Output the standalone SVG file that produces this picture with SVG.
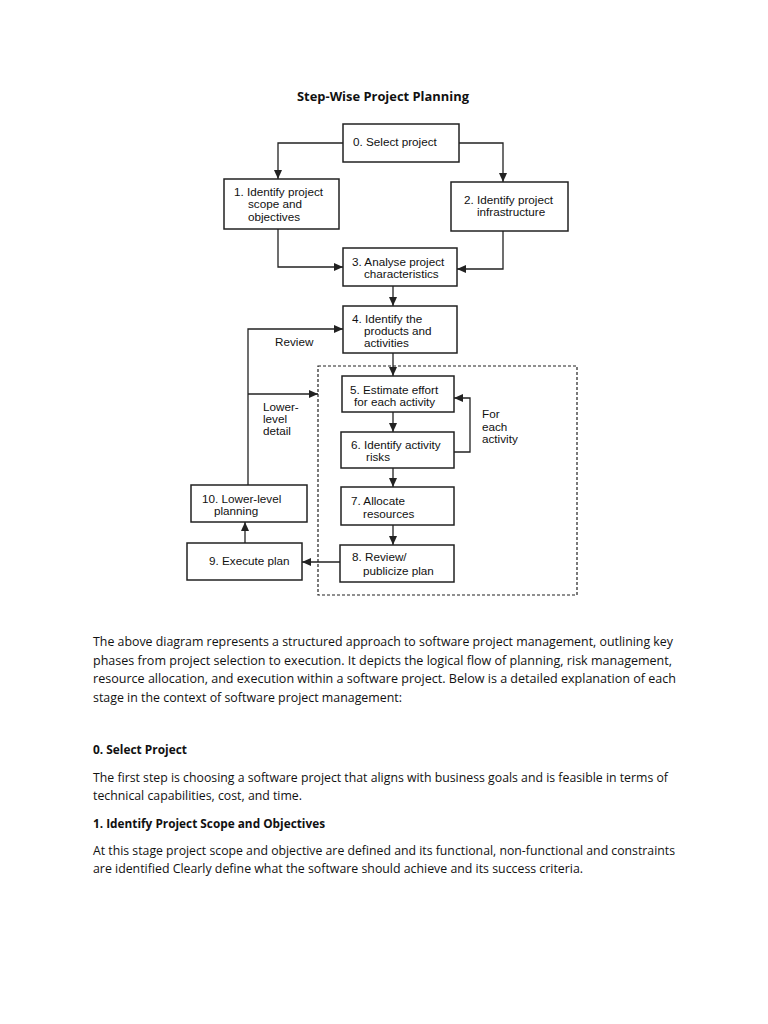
<svg xmlns="http://www.w3.org/2000/svg" width="768" height="1024" viewBox="0 0 768 1024">
<style>
.box{fill:#fff;stroke:#222;stroke-width:1.5}
.lbl{font-family:"Liberation Sans",Arial,sans-serif;font-size:11.7px;fill:#111}
.con{fill:none;stroke:#222;stroke-width:1.3}
.body{font-family:"Open Sans","Liberation Sans",sans-serif;font-size:13px;fill:#111}
.hd{font-family:"Open Sans","Liberation Sans",sans-serif;font-size:13px;font-weight:bold;fill:#111}
</style>
<defs>
<marker id="ah" markerUnits="userSpaceOnUse" markerWidth="9" markerHeight="8" refX="9" refY="4" orient="auto">
<path d="M0,0 L9,4 L0,8 z" fill="#222"/>
</marker>
</defs>
<rect width="768" height="1024" fill="#fff"/>
<text class="hd" x="383" y="101" text-anchor="middle" textLength="172" lengthAdjust="spacingAndGlyphs">Step-Wise Project Planning</text>

<g id="connectors">
<path class="con" d="M343,143 H278 V179" marker-end="url(#ah)"/>
<path class="con" d="M459,143 H503 V182" marker-end="url(#ah)"/>
<path class="con" d="M278,229 V267 H343" marker-end="url(#ah)"/>
<path class="con" d="M503,231 V269 H457" marker-end="url(#ah)"/>
<path class="con" d="M393,286 V306" marker-end="url(#ah)"/>
<path class="con" d="M393,353 V376" marker-end="url(#ah)"/>
<path class="con" d="M248,485 V329 H343" marker-end="url(#ah)"/>
<path class="con" d="M248,394 H318" marker-end="url(#ah)"/>
<path class="con" d="M393,412 V432" marker-end="url(#ah)"/>
<path class="con" d="M454,452 H470 V398 H454" marker-end="url(#ah)"/>
<path class="con" d="M393,468 V487" marker-end="url(#ah)"/>
<path class="con" d="M393,525 V545" marker-end="url(#ah)"/>
<path class="con" d="M340,562 H302" marker-end="url(#ah)"/>
<path class="con" d="M245,543 V522" marker-end="url(#ah)"/>
<text class="lbl" x="275" y="346">Review</text>
<text class="lbl" x="263" y="411">Lower-</text>
<text class="lbl" x="263" y="423">level</text>
<text class="lbl" x="263" y="435">detail</text>
<text class="lbl" x="482" y="418">For</text>
<text class="lbl" x="482" y="431">each</text>
<text class="lbl" x="482" y="443">activity</text>
</g>

<g id="group-loop">
<rect x="318" y="366" width="259" height="229" fill="none" stroke="#222" stroke-width="1.2" stroke-dasharray="3,2"/>
</g>

<g id="n0"><rect class="box" x="343" y="124" width="116" height="38"/>
<text class="lbl" x="353" y="146">0. Select project</text></g>

<g id="n1"><rect class="box" x="224" y="179" width="115" height="50"/>
<text class="lbl" x="234" y="196">1. Identify project</text>
<text class="lbl" x="248" y="208">scope and</text>
<text class="lbl" x="248" y="221">objectives</text></g>

<g id="n2"><rect class="box" x="451" y="182" width="117" height="49"/>
<text class="lbl" x="464" y="204">2. Identify project</text>
<text class="lbl" x="477" y="216">infrastructure</text></g>

<g id="n3"><rect class="box" x="343" y="248" width="114" height="38"/>
<text class="lbl" x="352" y="266">3. Analyse project</text>
<text class="lbl" x="364" y="278">characteristics</text></g>

<g id="n4"><rect class="box" x="343" y="306" width="114" height="47"/>
<text class="lbl" x="352" y="323">4. Identify the</text>
<text class="lbl" x="364" y="335">products and</text>
<text class="lbl" x="364" y="347">activities</text></g>

<g id="n5"><rect class="box" x="342" y="376" width="112" height="36"/>
<text class="lbl" x="350" y="394">5. Estimate effort</text>
<text class="lbl" x="354" y="406">for each activity</text></g>

<g id="n6"><rect class="box" x="341" y="432" width="113" height="36"/>
<text class="lbl" x="351" y="449">6. Identify activity</text>
<text class="lbl" x="366" y="461">risks</text></g>

<g id="n7"><rect class="box" x="341" y="487" width="113" height="38"/>
<text class="lbl" x="351" y="505">7. Allocate</text>
<text class="lbl" x="363" y="518">resources</text></g>

<g id="n8"><rect class="box" x="340" y="545" width="114" height="37"/>
<text class="lbl" x="352" y="561">8. Review/</text>
<text class="lbl" x="363" y="575">publicize plan</text></g>

<g id="n9"><rect class="box" x="187" y="543" width="115" height="37"/>
<text class="lbl" x="209" y="565">9. Execute plan</text></g>

<g id="n10"><rect class="box" x="191" y="485" width="116" height="37"/>
<text class="lbl" x="202" y="503">10. Lower-level</text>
<text class="lbl" x="214" y="515">planning</text></g>

<g id="text">
<text class="body" x="93" y="646" textLength="580" lengthAdjust="spacingAndGlyphs">The above diagram represents a structured approach to software project management, outlining key</text>
<text class="body" x="93" y="665" textLength="579" lengthAdjust="spacingAndGlyphs">phases from project selection to execution. It depicts the logical flow of planning, risk management,</text>
<text class="body" x="93" y="683" textLength="583" lengthAdjust="spacingAndGlyphs">resource allocation, and execution within a software project. Below is a detailed explanation of each</text>
<text class="body" x="93" y="702" textLength="309" lengthAdjust="spacingAndGlyphs">stage in the context of software project management:</text>
<text class="hd" x="93" y="754" textLength="94" lengthAdjust="spacingAndGlyphs">0. Select Project</text>
<text class="body" x="93" y="782" textLength="575" lengthAdjust="spacingAndGlyphs">The first step is choosing a software project that aligns with business goals and is feasible in terms of</text>
<text class="body" x="93" y="800" textLength="209" lengthAdjust="spacingAndGlyphs">technical capabilities, cost, and time.</text>
<text class="hd" x="93" y="828" textLength="232" lengthAdjust="spacingAndGlyphs">1. Identify Project Scope and Objectives</text>
<text class="body" x="93" y="855" textLength="582" lengthAdjust="spacingAndGlyphs">At this stage project scope and objective are defined and its functional, non-functional and constraints</text>
<text class="body" x="93" y="873" textLength="490" lengthAdjust="spacingAndGlyphs">are identified Clearly define what the software should achieve and its success criteria.</text>
</g>
</svg>
